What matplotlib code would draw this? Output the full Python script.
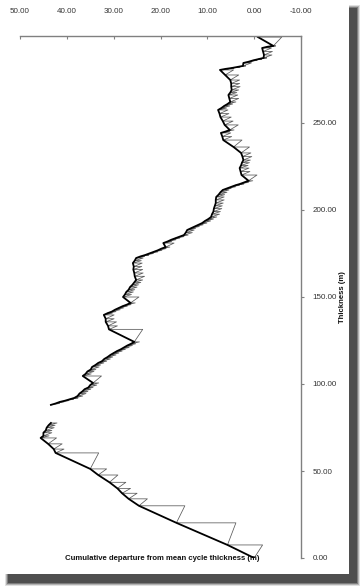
import numpy as np
import matplotlib.pyplot as plt
from matplotlib.patches import Rectangle

plt.rcParams['font.family'] = ['Liberation Sans', 'DejaVu Sans']

# mean cycle thickness (m)
mean_cycle = 1.8

# cycle thicknesses (m), lower interval
lower_cycles = [7.5, 12.7, 9.8, 4.0, 3.2, 2.8, 3.5, 4.2, 3.5, 9.2, 2.2, 3.0, 3.4,
                1.2, 1.8, 1.3, 1.6, 1.4, 1.3]
# unexposed interval between the two parts (m)
gap_thickness = 10.4
# cycle thicknesses (m), upper interval
upper_cycles = [0.8, 0.9, 0.7, 0.8, 0.8,
                1.1, 1.4, 1.2, 1.3, 1.0, 1.4, 1.2,
                4.0,
                1.2, 1.4, 1.1, 1.5,
                1.1, 1.2,
                1.0, 1.3, 1.1, 1.2, 1.1,
                1.1, 1.0, 1.1, 1.1, 1.0, 1.1,
                7.2,
                2.0, 2.3, 1.8, 2.2,
                1.0, 0.9, 1.1, 1.0,
                1.0, 0.9, 1.0,
                3.4,
                1.4, 1.5, 1.3, 1.5,
                1.3, 1.4, 1.4,
                2.1, 1.9,
                2.0, 1.7, 2.0,
                1.4, 1.5,
                0.9, 0.8, 0.9, 0.9,
                0.9, 1.0, 0.9,
                2.3,
                0.9, 1.0, 0.9, 0.9, 0.9,
                1.4, 1.5,
                1.0, 1.0, 1.0, 1.0,
                1.2, 1.1, 1.2,
                1.6, 1.5, 1.7, 1.6, 1.6,
                1.8, 1.7,
                1.3, 1.4, 1.3,
                0.9, 0.9, 0.9, 0.8, 0.9, 0.9,
                3.3,
                2.0, 2.0,
                1.5, 1.6, 1.5,
                2.0, 2.1,
                3.4,
                4.0,
                2.0, 2.1,
                0.8, 0.9,
                2.9,
                2.2, 2.3,
                2.0, 2.1,
                1.1, 1.2, 1.1, 1.2,
                2.0, 2.0,
                1.4, 1.5,
                1.9, 1.8, 2.0,
                2.9, 2.9,
                0.6, 0.5, 0.6, 0.6,
                1.7,
                0.7, 0.8, 0.7, 0.7,
                1.7,
                2.0, 2.0,
                0.7, 0.5, 5.1]

x_ticks = [50, 40, 30, 20, 10, 0, -10]
y_ticks = [0, 50, 100, 150, 200, 250]


def fischer(cycles, t0, d0):
    t = np.array(cycles)
    T = t0 + np.concatenate([[0], np.cumsum(t)])
    D = d0 + np.concatenate([[0], np.cumsum(t - mean_cycle)])
    sx, sy = [D[0]], [T[0]]
    for i in range(1, len(T)):
        sx += [D[i - 1] - mean_cycle, D[i]]
        sy += [T[i], T[i]]
    return D, T, sx, sy


fig = plt.figure(figsize=(3.6, 5.87), dpi=100)
fig.patch.set_facecolor('white')

# drop shadow frame
W, H = 360.0, 587.0
for k, a in enumerate([0.15, 0.25, 0.4, 0.6]):
    g = 3 - k
    fig.patches.append(Rectangle(((8 - g) / W, (4 - g) / H), (349 + 2 * g) / W, (575 + 2 * g) / H,
                                 transform=fig.transFigure, facecolor='#303030', alpha=a,
                                 edgecolor='none', zorder=0))
fig.patches.append(Rectangle((0, 13 / H), 349 / W, 1 - 13 / H, transform=fig.transFigure,
                             facecolor='white', edgecolor='none', zorder=1))

ax = fig.add_axes([20 / W, 29 / H, 281 / W, 522 / H])
ax.set_zorder(5)
ax.set_facecolor('none')

D1, T1, sx1, sy1 = fischer(lower_cycles, 0.0, 0.0)
D2, T2, sx2, sy2 = fischer(upper_cycles, T1[-1] + gap_thickness, D1[-1])

for sx, sy in [(sx1, sy1), (sx2, sy2)]:
    ax.plot(sx, sy, color='#5a5a5a', lw=0.55)
for D, T in [(D1, T1), (D2, T2)]:
    ax.plot(D, T, color='black', lw=1.3)

ax.set_xlim(50, -10)
ax.set_ylim(0, 300)
for s in ['bottom', 'left']:
    ax.spines[s].set_visible(False)
for s in ['top', 'right']:
    ax.spines[s].set_color('#808080')
    ax.spines[s].set_linewidth(1.0)

ax.xaxis.tick_top()
ax.yaxis.tick_right()
ax.set_xticks(x_ticks)
ax.set_xticklabels(['%.2f' % v for v in x_ticks])
ax.set_yticks(y_ticks)
ax.set_yticklabels(['%.2f' % v for v in y_ticks])
ax.tick_params(axis='x', direction='in', length=2.5, color='#808080', pad=15,
               labelsize=5.8, labelcolor='#333333')
ax.tick_params(axis='y', direction='out', length=2.5, color='#808080', pad=6,
               labelsize=5.8, labelcolor='#333333')

fig.text(162 / W, 1 - 558 / H, 'Cumulative departure from mean cycle thickness (m)',
         ha='center', va='center', fontsize=5.6, fontweight='bold', color='#111111')
fig.text(343 / W, 1 - 297 / H, 'Thickness (m)', rotation=90, ha='center', va='center',
         fontsize=5.6, fontweight='bold', color='#111111')

fig.savefig('out.png', dpi=100)
